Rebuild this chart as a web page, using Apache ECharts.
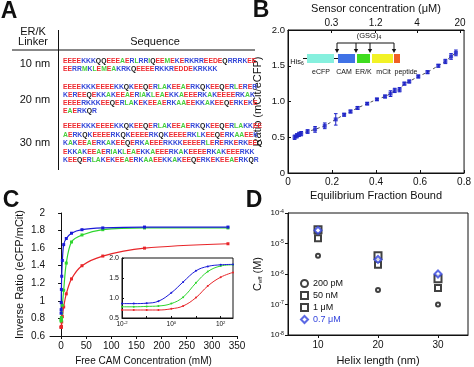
<!DOCTYPE html>
<html><head><meta charset="utf-8">
<script src="https://cdn.jsdelivr.net/npm/echarts@6/dist/echarts.min.js"></script>
<style>html,body{margin:0;padding:0;background:#fff}#c{width:474px;height:367px}</style>
</head><body><div id="c"></div>
<script>
// ---------- Panel A data ----------
const rowLabels = ['10 nm', '20 nm', '30 nm'];
const seq10 = ['EEEEKKKQQEEEAERLRRIQEEMEKERKRREEDEQRRRKEE', 'EERRMKLEMEAKRKQEEEERKKREDDEKRKKK'];
const seq20 = ['EEEEKKKEEEEKKQKEEQERLAKEEAERKQKEEQERLERER', 'KEREEQEKKAKEEAERIAKLEAEKKAEEERKAKEEEERKAK', 'EEEERKKKEEQERLAKEKEEAERKAAEEKKAKEEQERKEKE', 'EAERKQR'];
const seq30 = ['EEEEKKKEEEEKKQKEEQERLAKEEAERKQKEEQERLAKKEE', 'AERKQKEEEERKQKEEEERKQKEEEERKLKEEQERKAAEEK', 'KAKEEAERKAKEEQERKAEEERKKKEEEERLERERKERKEEQ', 'EKKAKEEAERIAKLEAEKKAEEERKAKEEEERKAKEEERKK', 'KEEQERLAKEKEEAERKAAEEKKAKEEQERKEKEEAERKQR'];

// ---------- Panel B data ----------
const bFrac  = [0.030,0.040,0.050,0.060,0.089,0.123,0.167,0.217,0.255,0.284,0.316,0.360,0.404,0.441,0.466,0.485,0.507,0.529,0.551,0.592,0.634,0.683,0.715,0.741,0.763];
const bRatio = [0.50,0.52,0.54,0.55,0.58,0.61,0.66,0.75,0.815,0.86,0.91,0.97,1.03,1.07,1.11,1.155,1.165,1.25,1.28,1.35,1.41,1.50,1.56,1.63,1.68];
const bErr   = [0.03,0.03,0.03,0.03,0.025,0.04,0.04,0.08,0.02,0.02,0.02,0.015,0.015,0.02,0.04,0.03,0.03,0.02,0.02,0.02,0.02,0.02,0.03,0.04,0.04];
const topTickPos    = [0.197, 0.398, 0.586, 0.782];
const topTickLabels = ['0.3', '1.2', '4', '20'];

// ---------- Panel C data ----------
const cConc  = [0.08,0.16,0.33,0.65,1.3,2.6,5.2,10.4,20.8,41.6,83,166,332];
const cBlue  = [0.86,0.90,0.98,1.13,1.28,1.46,1.64,1.71,1.77,1.81,1.83,1.84,1.84];
const cGreen = [0.77,0.78,0.79,0.81,0.86,0.95,1.12,1.43,1.67,1.75,1.81,1.83,1.83];
const cRed   = [0.70,0.70,0.70,0.71,0.76,0.82,0.93,1.08,1.25,1.40,1.51,1.60,1.65];
const insetConc  = [0.01,0.03,0.1,0.3,1,3,10,30,100,316];
const insetBlue  = [0.86,0.86,0.87,0.92,1.13,1.40,1.68,1.79,1.83,1.84];
const insetGreen = [0.78,0.78,0.79,0.80,0.86,1.02,1.38,1.66,1.80,1.83];
const insetRed   = [0.70,0.70,0.70,0.70,0.73,0.80,1.01,1.30,1.52,1.64];

// ---------- Panel D data ----------
const helix = [10, 20, 30];
const d200pM = [4.0e-6, 3.0e-7, 1.0e-7];
const d50nM  = [1.5e-5, 2.0e-6, 3.5e-7];
const d1uM   = [2.8e-5, 4.0e-6, 7.0e-7];
const d07uM  = [2.7e-5, 3.0e-6, 1.0e-6];

const FONT = 'Liberation Sans, Arial, sans-serif';
const chart = echarts.init(document.getElementById('c'), null, {renderer: 'canvas'});

function letterClass(ch) {
  if (ch === 'E' || ch === 'D') return 'r';
  if (ch === 'K' || ch === 'R') return 'b';
  if (ch === 'Q') return 'k';
  return 'g';
}
function richSeq(s) {
  let out = '', cur = null, buf = '';
  for (const ch of s) {
    const c = letterClass(ch);
    if (c !== cur) { if (buf) out += '{' + cur + '|' + buf + '}'; cur = c; buf = ''; }
    buf += ch;
  }
  if (buf) out += '{' + cur + '|' + buf + '}';
  return out;
}
const SEQ_FS = 6.8;
const seqRich = {
  r: {fill: '#ee2a30', color: '#ee2a30', fontSize: SEQ_FS, fontWeight: 'bold', fontFamily: FONT},
  b: {fill: '#3346d8', color: '#3346d8', fontSize: SEQ_FS, fontWeight: 'bold', fontFamily: FONT},
  g: {fill: '#46cf3c', color: '#46cf3c', fontSize: SEQ_FS, fontWeight: 'bold', fontFamily: FONT},
  k: {fill: '#111111', color: '#111111', fontSize: SEQ_FS, fontWeight: 'bold', fontFamily: FONT}
};

const graphics = [];
function txt(x, y, text, size, opts) {
  opts = opts || {};
  graphics.push({type: 'text', x: x, y: y, z: 10, style: Object.assign({
    text: text, fill: opts.fill || '#111', fontSize: size, fontFamily: FONT,
    fontWeight: opts.weight || 'normal', align: opts.align || 'center', verticalAlign: 'middle',
    textAlign: opts.align || 'center', textVerticalAlign: 'middle'
  }, opts.rich ? {rich: opts.rich} : {})});
}
function ln(x1, y1, x2, y2, w, color) {
  graphics.push({type: 'line', z: 10, shape: {x1, y1, x2, y2}, style: {stroke: color || '#111', lineWidth: w || 1}});
}

// Panel letters
txt(9, 12, 'A', 23, {weight: 'bold'});
txt(261, 11, 'B', 23, {weight: 'bold'});
txt(11, 201, 'C', 23, {weight: 'bold'});
txt(254, 201, 'D', 23, {weight: 'bold'});

// Panel A table
txt(33, 32, 'ER/K', 11);
txt(33, 42, 'Linker', 11);
txt(155, 42, 'Sequence', 11);
ln(12, 50, 255, 50, 1);
ln(58.5, 30, 58.5, 170, 1);
txt(35, 64, rowLabels[0], 11);
txt(35, 100, rowLabels[1], 11);
txt(35, 143, rowLabels[2], 11);
function seqBlock(lines, y0, dy) {
  lines.forEach((s, i) => {
    graphics.push({type: 'text', x: 63, y: y0 + i * dy, z: 10, style: {
      text: richSeq(s), rich: seqRich, fontSize: SEQ_FS, fontWeight: 'bold', fontFamily: FONT,
      align: 'left', verticalAlign: 'middle', textAlign: 'left', textVerticalAlign: 'middle'}});
  });
}
seqBlock(seq10, 61, 8);
seqBlock(seq20, 87.5, 8);
seqBlock(seq30, 126.5, 8.4);

// Panel B schematic
const boxes = [
  {x: 307, w: 27, c: '#86f0de'},
  {x: 338, w: 17, c: '#4072e6'},
  {x: 357, w: 13, c: '#3fdc1f'},
  {x: 372, w: 21, c: '#f2f226'},
  {x: 394, w: 6, c: '#f06024'}
];
boxes.forEach(b => graphics.push({type: 'rect', z: 10, shape: {x: b.x, y: 54, width: b.w, height: 9}, style: {fill: b.c}}));
ln(303, 58.5, 307, 58.5, 1);
ln(334, 58.5, 338, 58.5, 1);
txt(297, 62, 'His{s|6}', 7.5, {rich: {s: {fontSize: 5, fill: '#111', verticalAlign: 'bottom', padding: [3, 0, 0, 0]}}});
ln(337, 43, 394, 43, 1);
[337, 356, 370, 394].forEach(x => {
  ln(x, 43, x, 49, 1);
  graphics.push({type: 'polygon', z: 10, shape: {points: [[x - 2.2, 49], [x + 2.2, 49], [x, 53]]}, style: {fill: '#111'}});
});
txt(369, 36, '(GSG){s|4}', 7.5, {rich: {s: {fontSize: 5, fill: '#111', padding: [4, 0, 0, 0]}}});
txt(321, 72, 'eCFP', 7);
txt(344, 72, 'CAM', 7);
txt(363.5, 72, 'ER/K', 7);
txt(383.5, 72, 'mCit', 7);
txt(406, 72, 'peptide', 7);

const axisText = {color: '#111', fontFamily: FONT, fontSize: 10};
const blackLine = {lineStyle: {color: '#111', width: 1}};

const supRich = (base) => ({s: {fontSize: base * 0.65, fontFamily: FONT, color: '#111', verticalAlign: 'top', lineHeight: base * 0.6}});

const option = {
  animation: false,
  textStyle: {fontFamily: FONT},
  grid: [
    {left: 288, top: 30, width: 183, height: 143, show: true, borderColor: '#111', borderWidth: 1, backgroundColor: 'transparent'},
    {left: 50, top: 213, width: 187, height: 123},
    {left: 122, top: 258, width: 111, height: 60, show: true, borderColor: '#111', borderWidth: 1, backgroundColor: '#fff'},
    {left: 288, top: 213, width: 180, height: 124, show: true, borderColor: '#111', borderWidth: 1, backgroundColor: 'transparent'}
  ],
  xAxis: [
    {gridIndex: 0, type: 'value', min: 0, max: 0.8, interval: 0.2, splitLine: {show: false},
     axisLine: blackLine, axisTick: {inside: true, length: 3, lineStyle: {color: '#111'}},
     axisLabel: Object.assign({}, axisText, {margin: 4, formatter: v => v === 0 ? '0' : String(+v.toFixed(1))}),
     name: 'Equilibrium Fraction Bound', nameLocation: 'middle', nameGap: 17, nameTextStyle: {color: '#111', fontSize: 11, fontFamily: FONT}},
    {gridIndex: 0, type: 'value', position: 'top', min: 0, max: 0.8, splitLine: {show: false},
     axisLine: blackLine,
     axisTick: {inside: true, length: 3, lineStyle: {color: '#111'}, customValues: topTickPos},
     axisLabel: Object.assign({}, axisText, {margin: 2, customValues: topTickPos,
       formatter: v => { const i = topTickPos.findIndex(p => Math.abs(p - v) < 1e-6); return i >= 0 ? topTickLabels[i] : ''; }}),
     name: 'Sensor concentration (μM)', nameLocation: 'middle', nameGap: 16, nameTextStyle: {color: '#111', fontSize: 11, fontFamily: FONT}},
    {gridIndex: 1, type: 'value', min: -22, max: 350, splitLine: {show: false},
     axisLine: blackLine,
     axisTick: {show: true, length: 3, lineStyle: {color: '#111'}, customValues: [0, 50, 100, 150, 200, 250, 300, 350]},
     axisLabel: Object.assign({}, axisText, {margin: 5, customValues: [0, 50, 100, 150, 200, 250, 300, 350]}),
     name: 'Free CAM Concentration (mM)', nameLocation: 'middle', nameGap: 20, nameTextStyle: {color: '#111', fontSize: 10, fontFamily: FONT}},
    {gridIndex: 2, type: 'log', logBase: 10, min: 0.01, max: 316, splitLine: {show: false},
     axisLine: blackLine, axisTick: {inside: true, length: 2, lineStyle: {color: '#111'}},
     axisLabel: {color: '#111', fontFamily: FONT, fontSize: 6.5, margin: 3, showMaxLabel: false,
       formatter: v => { const e = Math.round(Math.log10(v)); return [-2, 0, 2].includes(e) ? '10{s|' + e + '}' : ''; },
       rich: supRich(6.5)}},
    {gridIndex: 3, type: 'value', min: 5, max: 35, splitLine: {show: false},
     axisLine: blackLine,
     axisTick: {show: true, length: 3, lineStyle: {color: '#111'}, customValues: helix},
     axisLabel: Object.assign({}, axisText, {margin: 5, customValues: helix}),
     name: 'Helix length (nm)', nameLocation: 'middle', nameGap: 20, nameTextStyle: {color: '#111', fontSize: 11, fontFamily: FONT}}
  ],
  yAxis: [
    {gridIndex: 0, type: 'value', min: 0, max: 2, interval: 0.5, splitLine: {show: false},
     axisLine: blackLine, axisTick: {inside: true, length: 3, lineStyle: {color: '#111'}},
     axisLabel: Object.assign({}, axisText, {fontSize: 9.5, margin: 3, formatter: v => v === 0 ? '0' : v.toFixed(1)}),
     name: 'Ratio (mCit/eCFP)', nameLocation: 'middle', nameGap: 25, nameMoveOverlap: false,
     nameTextStyle: {color: '#111', fontSize: 11, fontFamily: FONT}},
    {gridIndex: 1, type: 'value', min: 0.6, max: 2, interval: 0.2, splitLine: {show: false},
     axisLine: blackLine, axisTick: {show: true, length: 3, lineStyle: {color: '#111'}},
     axisLabel: Object.assign({}, axisText, {margin: 5, formatter: v => String(+v.toFixed(1))}),
     name: 'Inverse Ratio (eCFP/mCit)', nameLocation: 'middle', nameGap: 25, nameMoveOverlap: false,
     nameTextStyle: {color: '#111', fontSize: 11, fontFamily: FONT}},
    {gridIndex: 2, type: 'value', min: 0.5, max: 2, interval: 0.5, splitLine: {show: false},
     axisLine: blackLine, axisTick: {inside: true, length: 2, lineStyle: {color: '#111'}},
     axisLabel: {color: '#111', fontFamily: FONT, fontSize: 7, margin: 3, formatter: v => v.toFixed(1)}},
    {gridIndex: 3, type: 'log', logBase: 10, min: 1e-8, max: 1e-4, splitLine: {show: false},
     axisLine: blackLine, axisTick: {show: true, length: 3, lineStyle: {color: '#111'}},
     axisLabel: {color: '#111', fontFamily: FONT, fontSize: 8, margin: 4,
       formatter: v => '10{s|' + Math.round(Math.log10(v)) + '}', rich: supRich(8)},
     name: 'C{b|eff} (M)', nameLocation: 'middle', nameGap: 25, nameMoveOverlap: false,
     nameTextStyle: {color: '#111', fontSize: 11, fontFamily: FONT, rich: {b: {fontSize: 6, fontFamily: FONT, color: '#111', verticalAlign: 'bottom', lineHeight: 6}}}}
  ],
  legend: {
    orient: 'vertical', left: 295, top: 274, itemGap: 3, itemWidth: 7, itemHeight: 7,
    textStyle: {color: '#111', fontSize: 9, fontFamily: FONT},
    data: [
      {name: '200 pM', icon: 'emptyCircle'},
      {name: '50 nM', icon: 'emptyRect'},
      {name: '1 μM', icon: 'emptyRect'},
      {name: '0.7 μM', icon: 'emptyDiamond', textStyle: {color: '#3344dd'}}
    ]
  },
  series: [
    // B
    {type: 'line', xAxisIndex: 0, yAxisIndex: 0, data: bFrac.map((x, i) => [x, bRatio[i]]), symbol: 'none',
     lineStyle: {color: '#222', width: 0.8, type: [3, 3]}, z: 1},
    {type: 'custom', xAxisIndex: 0, yAxisIndex: 0, data: bFrac.map((x, i) => [x, bRatio[i], bErr[i]]), z: 2,
     renderItem: (params, api) => {
       const x = api.value(0), y = api.value(1), e = api.value(2);
       const p1 = api.coord([x, y - e]), p2 = api.coord([x, y + e]);
       const st = {stroke: '#1c22c8', lineWidth: 1};
       return {type: 'group', children: [
         {type: 'line', shape: {x1: p1[0], y1: p1[1], x2: p2[0], y2: p2[1]}, style: st},
         {type: 'line', shape: {x1: p1[0] - 1.8, y1: p1[1], x2: p1[0] + 1.8, y2: p1[1]}, style: st},
         {type: 'line', shape: {x1: p2[0] - 1.8, y1: p2[1], x2: p2[0] + 1.8, y2: p2[1]}, style: st}
       ]};
     }},
    {type: 'scatter', xAxisIndex: 0, yAxisIndex: 0, data: bFrac.map((x, i) => [x, bRatio[i]]), symbol: 'rect', symbolSize: 4,
     itemStyle: {color: '#1c22c8'}, z: 3},
    // C main
    {type: 'line', xAxisIndex: 2, yAxisIndex: 1, data: cConc.map((x, i) => [x, cRed[i]]), smooth: 0.3, symbol: 'rect', symbolSize: 3,
     itemStyle: {color: '#e8262a'}, lineStyle: {color: '#e8262a', width: 1.2}},
    {type: 'line', xAxisIndex: 2, yAxisIndex: 1, data: cConc.map((x, i) => [x, cGreen[i]]), smooth: 0.3, symbol: 'rect', symbolSize: 3,
     itemStyle: {color: '#2fd62f'}, lineStyle: {color: '#2fd62f', width: 1.2}},
    {type: 'line', xAxisIndex: 2, yAxisIndex: 1, data: cConc.map((x, i) => [x, cBlue[i]]), smooth: 0.3, symbol: 'rect', symbolSize: 3,
     itemStyle: {color: '#1a1ad8'}, lineStyle: {color: '#1a1ad8', width: 1.2}},
    // C inset
    {type: 'line', xAxisIndex: 3, yAxisIndex: 2, data: insetConc.map((x, i) => [x, insetRed[i]]), smooth: 0.4, symbol: 'circle', symbolSize: 2,
     itemStyle: {color: '#e8262a'}, lineStyle: {color: '#e8262a', width: 1}, z: 5},
    {type: 'line', xAxisIndex: 3, yAxisIndex: 2, data: insetConc.map((x, i) => [x, insetGreen[i]]), smooth: 0.4, symbol: 'circle', symbolSize: 2,
     itemStyle: {color: '#2fd62f'}, lineStyle: {color: '#2fd62f', width: 1}, z: 5},
    {type: 'line', xAxisIndex: 3, yAxisIndex: 2, data: insetConc.map((x, i) => [x, insetBlue[i]]), smooth: 0.4, symbol: 'circle', symbolSize: 2,
     itemStyle: {color: '#1a1ad8'}, lineStyle: {color: '#1a1ad8', width: 1}, z: 5},
    // D
    {name: '200 pM', type: 'scatter', xAxisIndex: 4, yAxisIndex: 3, data: helix.map((x, i) => [x, d200pM[i]]), symbol: 'emptyCircle', symbolSize: 4,
     itemStyle: {color: '#111', borderWidth: 1.5}},
    {name: '50 nM', type: 'scatter', xAxisIndex: 4, yAxisIndex: 3, data: helix.map((x, i) => [x, d50nM[i]]), symbol: 'emptyRect', symbolSize: 6,
     itemStyle: {color: '#111', borderWidth: 1.5}},
    {name: '1 μM', type: 'scatter', xAxisIndex: 4, yAxisIndex: 3, data: helix.map((x, i) => [x, d1uM[i]]), symbol: 'emptyRect', symbolSize: 7,
     itemStyle: {color: '#111', borderWidth: 1.5}},
    {name: '0.7 μM', type: 'scatter', xAxisIndex: 4, yAxisIndex: 3, data: helix.map((x, i) => [x, d07uM[i]]), symbol: 'emptyDiamond', symbolSize: 7,
     itemStyle: {color: '#3344dd', borderWidth: 1.5}}
  ],
  graphic: graphics
};
chart.setOption(option);
</script>
</body></html>
